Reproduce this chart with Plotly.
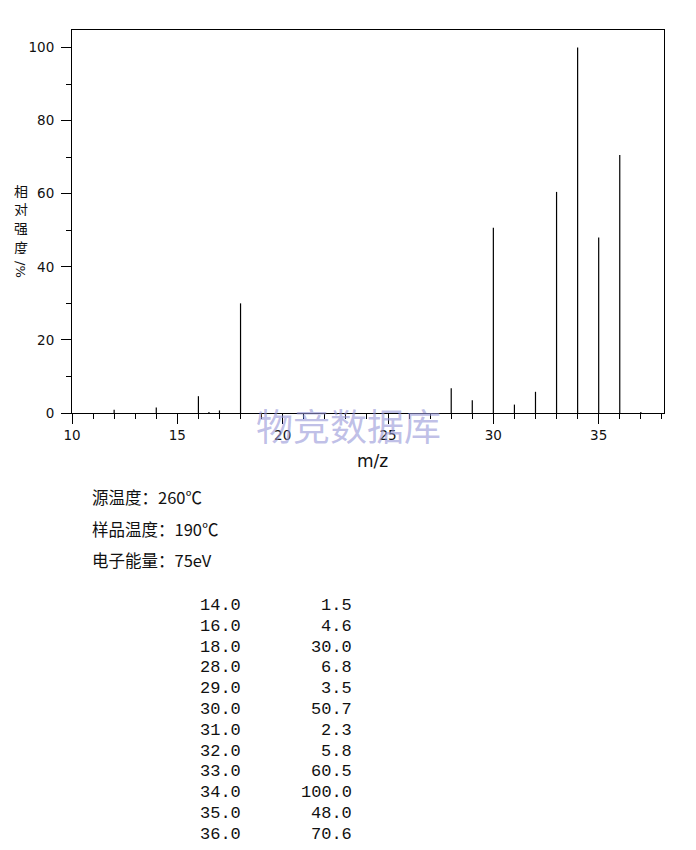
import plotly.graph_objects as go

# ---- data ----
mz_table = [14.0, 16.0, 18.0, 28.0, 29.0, 30.0, 31.0, 32.0, 33.0, 34.0, 35.0, 36.0]
int_table = [1.5, 4.6, 30.0, 6.8, 3.5, 50.7, 2.3, 5.8, 60.5, 100.0, 48.0, 70.6]
mz_minor = [12.0, 16.5, 17.0, 37.0]
int_minor = [0.9, 0.3, 0.7, 0.3]
info_lines = ["源温度：260℃", "样品温度：190℃", "电子能量：75eV"]
x_title = "m/z"
y_title_chars = ["相", "对", "强", "度"]
watermark = "物竞数据库"

OFF = 8  # page body margin
W, H = 696 - 2 * OFF, 850 - 2 * OFF
L, R, T, B = 72 - OFF, 24, 30 - OFF, (850 - OFF) - 413
PW, PH = W - L - R, H - T - B

def px(x):
    return (x - OFF - L) / PW

def py(y):
    return (H - B - (y - OFF)) / PH

mz_all = mz_table + mz_minor
int_all = int_table + int_minor
xs, ys = [], []
for m, v in zip(mz_all, int_all):
    xs += [m, m, None]
    ys += [0, v, None]

fig = go.Figure()
fig.add_trace(go.Scatter(x=xs, y=ys, mode="lines",
                         line=dict(color="black", width=1.2),
                         hoverinfo="skip", showlegend=False))

tickfont = dict(family="DejaVu Sans, Verdana, sans-serif", size=13.5, color="#111")
fig.update_xaxes(range=[10, 38.1], showline=True, linecolor="black", linewidth=1,
                 mirror=True, showgrid=False, zeroline=False,
                 tick0=10, dtick=5, ticks="outside", ticklen=10, tickcolor="black",
                 tickfont=tickfont,
                 minor=dict(dtick=1, tick0=10, ticks="outside", ticklen=5,
                            tickcolor="black", showgrid=False))
fig.update_yaxes(range=[0, 104.8], showline=True, linecolor="black", linewidth=1,
                 mirror=True, showgrid=False, zeroline=False,
                 tick0=0, dtick=20, ticks="outside", ticklen=10, tickcolor="black",
                 tickfont=tickfont, ticklabelstandoff=4,
                 minor=dict(dtick=10, tick0=0, ticks="outside", ticklen=5,
                            tickcolor="black", showgrid=False))

ann = []
def add(x, y, text, font, xanchor="center", **kw):
    ann.append(dict(x=px(x), y=py(y), xref="paper", yref="paper", text=text,
                    xanchor=xanchor, yanchor="middle", showarrow=False, font=font, **kw))

# x axis title
add(372, 461, x_title, dict(family="DejaVu Sans, sans-serif", size=17, color="#111"))
# y axis title stacked
ytf = dict(family="Noto Sans CJK SC", size=14, color="#111")
for i, ch in enumerate(y_title_chars):
    add(21, 191 + 18.5 * i, ch, ytf, borderpad=0, height=14)
add(21, 269, "/%", dict(family="DejaVu Sans, sans-serif", size=13, color="#111"),
    textangle=90, borderpad=0)
# watermark
add(348, 425, watermark, dict(family="Noto Sans CJK SC", size=37,
                              color="rgba(150,150,215,0.6)"))
# info lines
for i, t in enumerate(info_lines):
    add(90, 497 + 31.5 * i, t, dict(family="Noto Sans CJK SC", size=16.5, color="#111"),
        xanchor="left")
# table
mono = dict(family="Liberation Mono, Courier New, monospace", size=17, color="#111")
for i, (m, v) in enumerate(zip(mz_table, int_table)):
    add(242, 605 + 20.8 * i, f"{m:.1f}", mono, xanchor="right", height=12, borderpad=0)
    add(353, 605 + 20.8 * i, f"{v:.1f}", mono, xanchor="right", height=12, borderpad=0)

fig.update_layout(width=W, height=H, margin=dict(l=L, r=R, t=T, b=B, autoexpand=False),
                  plot_bgcolor="white", paper_bgcolor="white", annotations=ann)
fig.write_html("out.html")
